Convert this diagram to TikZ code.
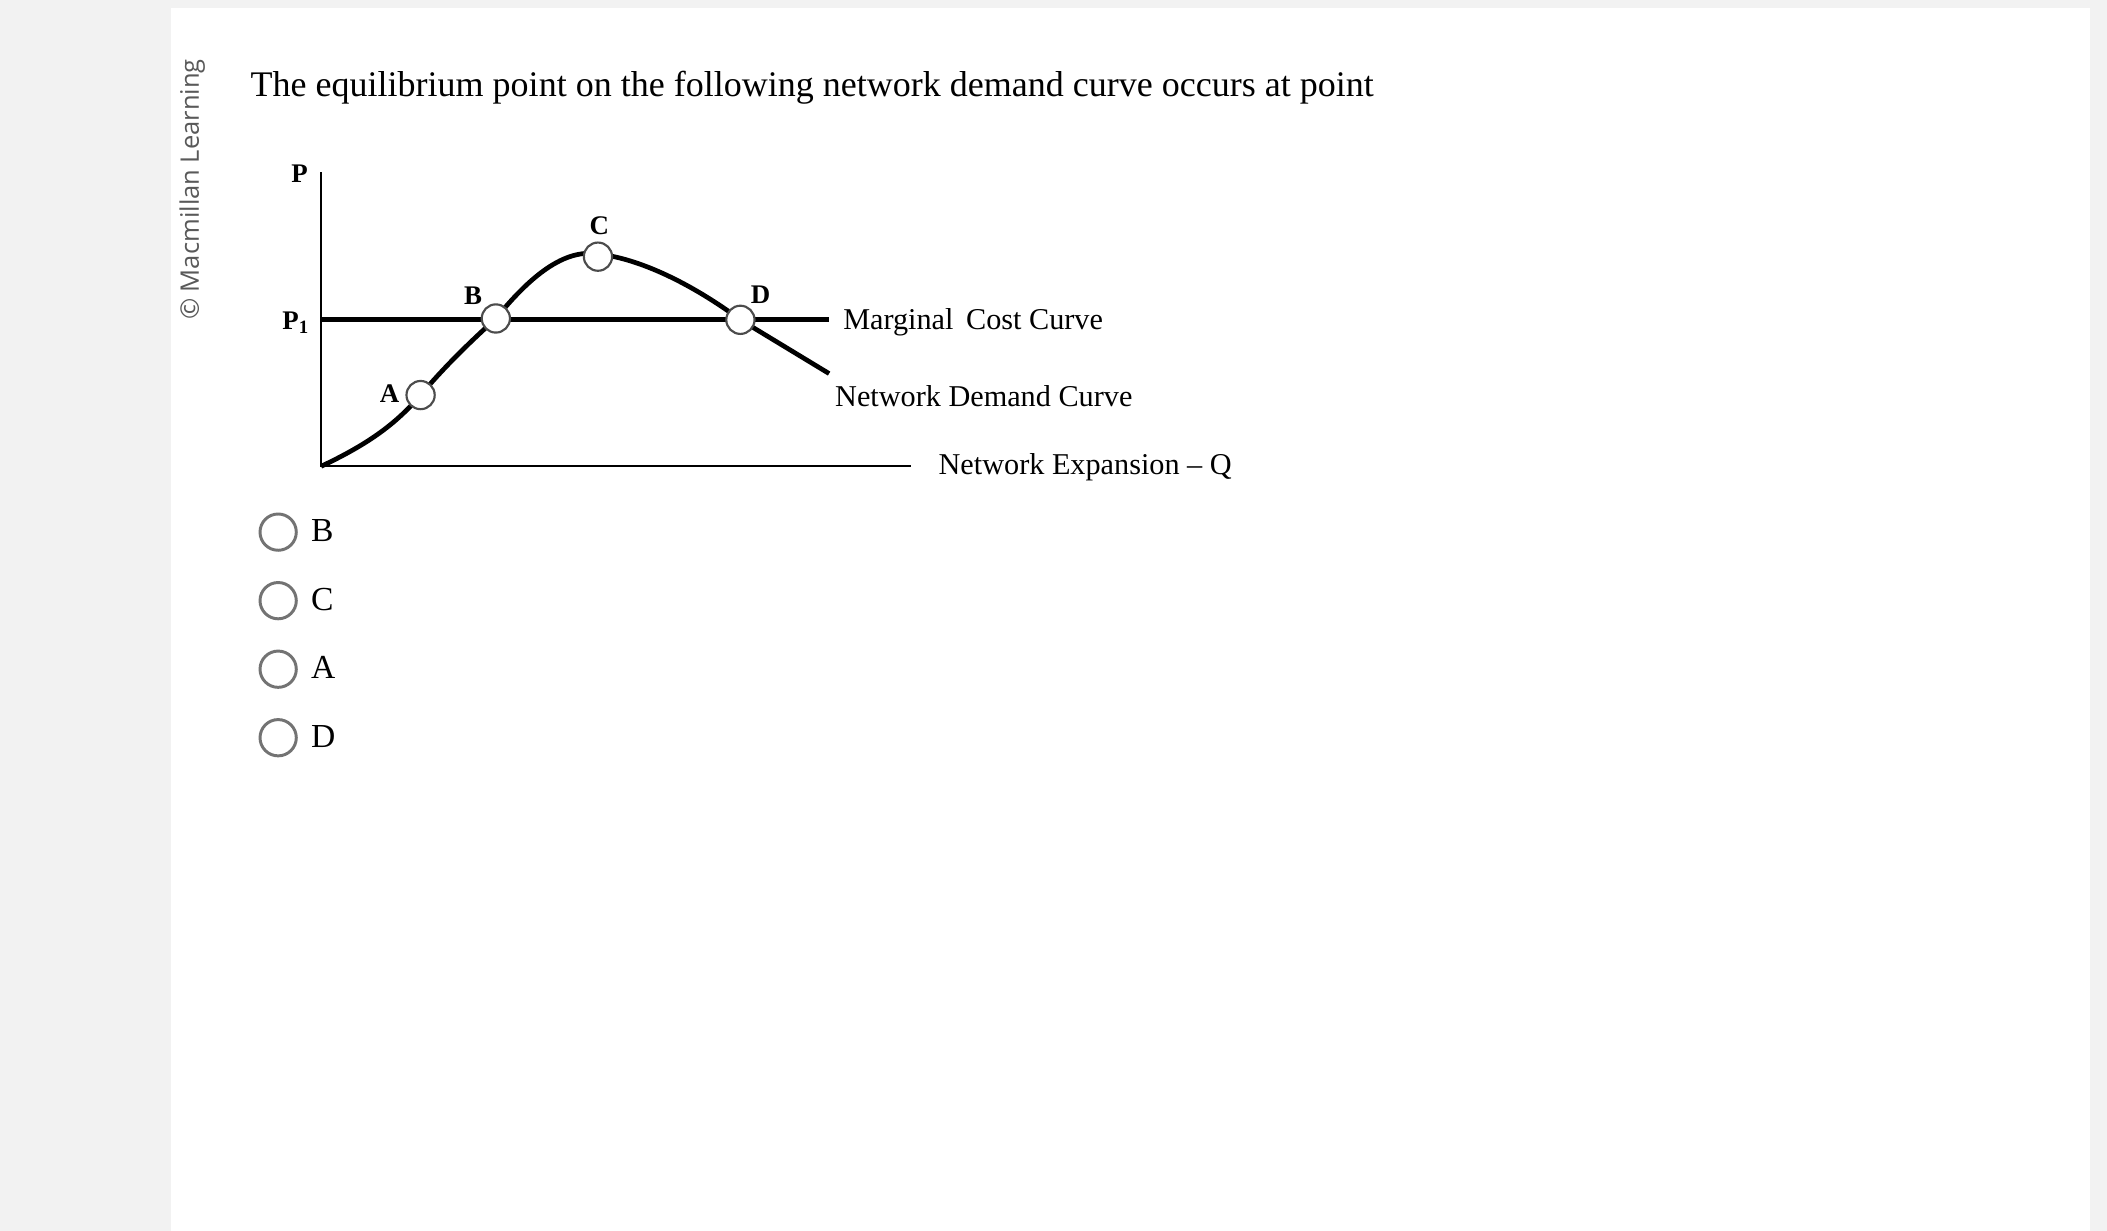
\documentclass[tikz,border=0pt]{standalone}
\usepackage{fontspec}
\setmainfont{Liberation Serif}
\newfontfamily\sansf{Open Sans}
\begin{document}
\begin{tikzpicture}[x=1pt,y=-1pt,
  pt/.style={circle,draw=black!70,fill=white,line width=1.6pt,minimum size=21pt,inner sep=0pt},
  opt/.style={circle,draw=black!55,line width=2.2pt,minimum size=27pt,inner sep=0pt},
  lab/.style={font=\fontsize{22.5}{24}\selectfont},
  small/.style={font=\bfseries\fontsize{20}{22}\selectfont}]
\useasboundingbox (0,0) rectangle (1568,916);
\fill[black!5] (0,0) rectangle (1568,916);
\fill[white] (127,6) rectangle (1555,916);
\node[rotate=90,font=\sansf\fontsize{19}{21}\selectfont,text=black!65] (cr) at (143,141) {© Macmillan Learning};
\node[anchor=west,font=\fontsize{26.8}{28}\selectfont] (t) at (183,65) {The equilibrium point on the following network demand curve occurs at point};
% axes
\coordinate (o) at (239,347);
\coordinate (ytop) at (239,128);
\coordinate (xend) at (678,347);
\draw[line width=1.3pt] (ytop) -- (o) -- (xend);
\node[small] (P) at (223,129) {P};
\node[small] (P1) at (220,240) {P\textsubscript{1}};
% MC
\coordinate (mc0) at (239,238);
\coordinate (mc1) at (617,238);
\draw[line width=3.5pt] (mc0) -- (mc1);
% demand
\draw[line width=3.5pt] (o) .. controls (275,330) and (295,315) .. (313,294)
  .. controls (335,268) and (355,250) .. (369,237)
  .. controls (395,205) and (420,185) .. (445,189)
  .. controls (480,193) and (520,215) .. (551,238)
  -- (617,278);
\node[pt] (A) at (313,294) {};
\node[pt] (B) at (369,237) {};
\node[pt] (C) at (445,191) {};
\node[pt] (D) at (551,238) {};
\node[small] (la) at (290,293) {A};
\node[small] (lb) at (352,220) {B};
\node[small] (lc) at (446,168) {C};
\node[small] (ld) at (566,219) {D};
\node[lab,anchor=west] (mcl) at (624,240) {Marginal\, Cost Curve};
\node[lab,anchor=west] (ndl) at (618,295) {Network Demand Curve};
\node[lab,anchor=west] (nel) at (695,348) {Network Expansion -- Q};
% options
\foreach \y/\l [count=\i] in {396/B,447/C,498/A,549/D}{
  \node[opt] (o\i) at (207,\y) {};
  \node[anchor=west,font=\fontsize{25}{27}\selectfont] (ol\i) at (228,\y-1) {\l};
}
\end{tikzpicture}
\end{document}
